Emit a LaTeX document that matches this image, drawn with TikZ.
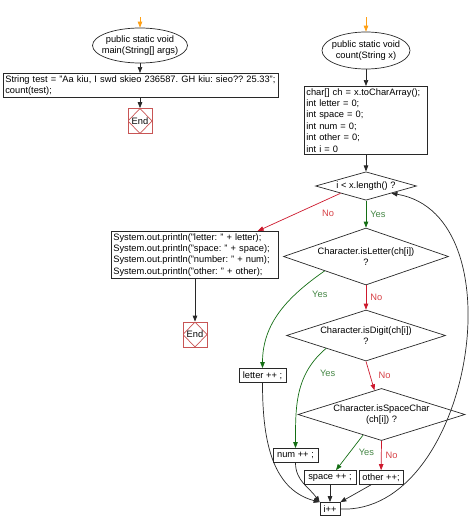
\documentclass[tikz,border=0pt]{standalone}
\usepackage{fontspec}
\setmainfont{Liberation Sans}
\frenchspacing
\usetikzlibrary{shapes.geometric,arrows.meta,calc}
\definecolor{startorange}{RGB}{255,160,20}
\definecolor{yesgreen}{RGB}{20,110,20}
\definecolor{nored}{RGB}{205,25,45}
\definecolor{yestext}{RGB}{70,135,70}
\definecolor{notext}{RGB}{215,65,70}
\definecolor{endred}{RGB}{200,85,85}
\definecolor{linegray}{RGB}{40,40,40}
\begin{document}
\begin{tikzpicture}[x=1pt, y=1pt, line width=0.7pt,
  font=\fontsize{9.3}{11.4}\selectfont,
  arr/.style={-{Triangle[length=6pt,width=4.5pt]}},
  startnode/.style={shape=ellipse, draw=linegray, inner xsep=-12pt, inner ysep=0pt, align=center, minimum height=35pt},
  stmt/.style={shape=rectangle, draw=linegray, inner sep=2pt, align=left, anchor=north west},
  incr/.style={shape=rectangle, draw=linegray, inner sep=1pt, minimum height=14pt},
  decide/.style={shape=diamond, draw=linegray, aspect=3, inner sep=0pt, align=center},
  endnode/.style={shape=rectangle, draw=endred, minimum width=24pt, minimum height=25pt, inner sep=0pt,
    path picture={\draw[endred] (path picture bounding box.north) -- (path picture bounding box.east)
      -- (path picture bounding box.south) -- (path picture bounding box.west) -- cycle;}},
  yeslab/.style={text=yestext, inner sep=1pt}, nolab/.style={text=notext, inner sep=1pt}]
\useasboundingbox (0,0) rectangle (474,-525);
% main
\coordinate (mainin) at (140,-17);
\node[startnode, minimum width=95pt] (main) at (140,-45.5) {public static void\\main(String[] args)};
\node[stmt, text width=271pt] (test) at (3,-73) {String test = "Aa kiu, I swd skieo 236587. GH kiu: sieo?? 25.33";\\count(test);};
\node[endnode] (end1) at (140,-121) {End};
\draw [arr, startorange] (mainin) -- (main);
\draw [arr, linegray] (main) -- (test.north -| main);
\draw [arr, linegray] (test.south -| main) -- (end1);
% count
\coordinate (countin) at (366,-17);
\node[startnode, minimum width=88pt, minimum height=37pt] (count) at (366,-50.5) {public static void\\count(String x)};
\node[stmt, text width=119pt] (vars) at (304,-86) {char[] ch = x.toCharArray();\\int letter = 0;\\int space = 0;\\int num = 0;\\int other = 0;\\int i = 0};
\node[decide, minimum width=101pt, minimum height=28pt] (cond) at (366,-186) {i < x.length() ?};
\node[stmt, text width=163pt] (print) at (111,-231) {System.out.println("letter: " + letter);\\System.out.println("space: " + space);\\System.out.println("number: " + num);\\System.out.println("other: " + other);};
\node[endnode] (end2) at (195,-334.5) {End};
\node[decide, minimum width=165pt, minimum height=57pt] (isLetter) at (366,-256.5) {Character.isLetter(ch[i])\\?};
\node[decide, minimum width=159pt, minimum height=51pt] (isDigit) at (366,-335.5) {Character.isDigit(ch[i])\\?};
\node[decide, minimum width=167pt, minimum height=50pt] (isSpace) at (381.5,-414.5) {Character.isSpaceChar\\(ch[i]) ?};
\node[incr, minimum width=47pt] (letter) at (262.5,-375.5) {letter ++ ;};
\node[incr, minimum width=45pt] (num) at (295.5,-455.5) {num ++ ;};
\node[incr, minimum width=52pt] (space) at (330,-477.5) {space ++ ;};
\node[incr, minimum width=44pt] (other) at (381,-477.5) {other ++;};
\node[incr, minimum width=20pt, minimum height=13pt] (ipp) at (330,-509) {i++};
\draw [arr, startorange] (countin) -- (count);
\draw [arr, linegray] (count) -- (vars.north -| count);
\draw [arr, linegray] (vars.south -| count) -- (cond);
\draw [arr, linegray] (print.south -| end2) -- (end2);
\draw [arr, nored] (cond.south west) -- node[nolab, pos=0.15, below=10pt] {No} ([xshift=-21pt]print.north east);
\draw [arr, yesgreen] (cond) -- node[yeslab, midway, right=3pt] {Yes} (isLetter);
\draw [arr, nored] (isLetter) -- node[nolab, midway, right=3pt] {No} (isDigit);
\draw [arr, nored] (isDigit.south) -- node[nolab, midway, right=7pt] {No} (isSpace);
\draw [arr, nored] (isSpace.south) -- node[nolab, midway, right=3pt] {No} (other);
\draw [arr, yesgreen] (isLetter.south west) to[out=215, in=90] node[yeslab, pos=0.3, right=16pt] {Yes} (letter);
\draw [arr, yesgreen] (isDigit.south west) to[out=220, in=90] node[yeslab, pos=0.3, right=13pt] {Yes} (num);
\draw [arr, yesgreen] ($(isSpace.west)!0.78!(isSpace.south)$) -- node[yeslab, midway, right=8pt] {Yes} ([xshift=6pt]space.north);
\draw [arr, linegray] (letter) to[out=-90, in=165] (ipp.north west);
\draw [arr, linegray] (num) to[out=-90, in=125] (ipp.north west);
\draw [arr, linegray] (space) -- (ipp);
\draw [arr, linegray] ([xshift=-10pt]other.south) -- (ipp.north east);
\draw [arr, linegray] (ipp.east) .. controls +(130,-6) and +(129.5,-22) .. (cond.south east);
\end{tikzpicture}
\end{document}
